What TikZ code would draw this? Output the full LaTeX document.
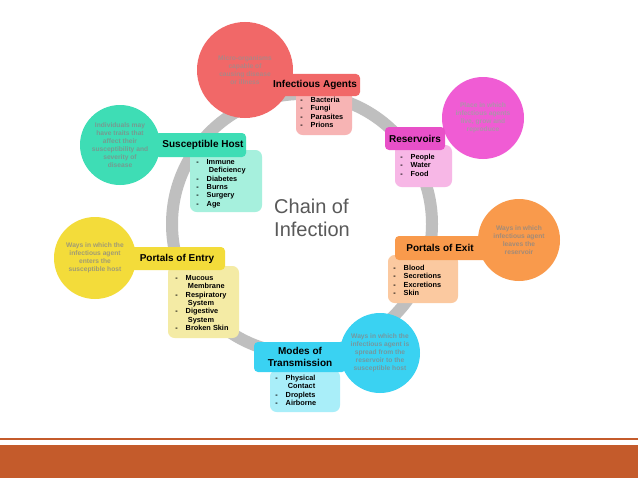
\documentclass[tikz,border=0pt]{standalone}
\usepackage{fontspec}
\setmainfont{Liberation Sans}
\definecolor{band}{RGB}{196,91,43}
\definecolor{ia}{RGB}{241,104,104}\definecolor{ial}{RGB}{247,180,180}
\definecolor{sh}{RGB}{62,221,181}\definecolor{shl}{RGB}{166,240,221}
\definecolor{rv}{RGB}{240,92,212}\definecolor{rvb}{RGB}{232,80,200}\definecolor{rvl}{RGB}{247,183,230}
\definecolor{pe}{RGB}{249,154,76}\definecolor{pel}{RGB}{251,201,160}
\definecolor{pn}{RGB}{243,220,58}\definecolor{pnl}{RGB}{244,235,165}
\definecolor{mt}{RGB}{58,210,242}\definecolor{mtl}{RGB}{169,238,249}
\begin{document}
\begin{tikzpicture}[x=0.75pt,y=-0.75pt,
  circ/.style={circle,inner sep=0pt,align=center,font=\fontsize{5}{6}\selectfont\bfseries},
  lab/.style={rounded corners=3pt},
  lst/.style={rounded corners=5pt},
  ltext/.style={anchor=north west,inner sep=0pt,align=left,font=\fontsize{5.5}{6.3}\selectfont\bfseries},
  ttext/.style={inner sep=0pt,align=center,font=\fontsize{7.5}{9}\selectfont\bfseries}]
\useasboundingbox[fill=white] (0,0) rectangle (638,478);
\fill[band] (0,445) rectangle (638,478);
\draw[line width=1.2pt,band] (0,439) -- (638,439);
\draw[line width=9pt,black!25] (302,224) circle[radius=130];
\node[font=\fontsize{15}{17}\selectfont,text=black!65,align=left] (title) at (312,218) {Chain of\\Infection};
% Infectious Agents
\fill[lst,ial] (296,90) rectangle (352,135);
\node[circ,fill=ia,minimum size=96pt*0.75,text=ia!50!black!60] (iac) at (245,70) {Micro-organisms\\capable of\\causing disease\\or illness};
\fill[lab,ia] (270,74) rectangle (360,96);
\node[ttext] (ialab) at (315,85) {Infectious Agents};
\node[ltext] (iat) at (300,97) {-\hspace{6pt}Bacteria\\-\hspace{6pt}Fungi\\-\hspace{6pt}Parasites\\-\hspace{6pt}Prions};
% Susceptible Host
\fill[lst,shl] (190,150) rectangle (262,212);
\node[circ,fill=sh,minimum size=80pt*0.75,text=sh!40!black!60] (shc) at (120,145) {Individuals may\\have traits that\\affect their\\susceptibility and\\severity of\\disease};
\fill[lab,sh] (155,133) rectangle (246,157);
\node[ttext] (shlab) at (203,145) {Susceptible Host};
\node[ltext] (sht) at (196,159) {-\hspace{6pt}Immune\\\hspace{9.5pt}Deficiency\\-\hspace{6pt}Diabetes\\-\hspace{6pt}Burns\\-\hspace{6pt}Surgery\\-\hspace{6pt}Age};
% Reservoirs
\fill[lst,rvl] (395,145) rectangle (452,187);
\node[circ,fill=rv,minimum size=82pt*0.75,text=rv!40!black!50] (rvc) at (483,118) {Place in which\\infectious agents\\live, grow and\\reproduce};
\fill[lab,rvb] (385,127) rectangle (445,150);
\node[ttext] (rvlab) at (415,138.5) {Reservoirs};
\node[ltext] (rvt) at (400,154) {-\hspace{6pt}People\\-\hspace{6pt}Water\\-\hspace{6pt}Food};
% Portals of Exit
\fill[lst,pel] (388,255) rectangle (458,303);
\node[circ,fill=pe,minimum size=82pt*0.75,text=pe!40!black!60] (pec) at (519,240) {Ways in which\\infectious agent\\leaves the\\reservoir};
\fill[lab,pe] (395,236) rectangle (490,260);
\node[ttext] (pelab) at (440,248) {Portals of Exit};
\node[ltext] (pet) at (393,265) {-\hspace{6pt}Blood\\-\hspace{6pt}Secretions\\-\hspace{6pt}Excretions\\-\hspace{6pt}Skin};
% Portals of Entry
\fill[lst,pnl] (168,266) rectangle (239,338);
\node[circ,fill=pn,minimum size=82pt*0.75,text=pn!40!black!60] (pnc) at (95,258) {Ways in which the\\infectious agent\\enters the\\susceptible host};
\fill[lab,pn] (123,247) rectangle (225,270);
\node[ttext] (pnlab) at (177,258.5) {Portals of Entry};
\node[ltext] (pnt) at (175,275) {-\hspace{6pt}Mucous\\\hspace{9.5pt}Membrane\\-\hspace{6pt}Respiratory\\\hspace{9.5pt}System\\-\hspace{6pt}Digestive\\\hspace{9.5pt}System\\-\hspace{6pt}Broken Skin};
% Modes of Transmission
\fill[lst,mtl] (270,370) rectangle (340,412);
\node[circ,fill=mt,minimum size=80pt*0.75,text=mt!40!black!60] (mtc) at (380,353) {Ways in which the\\infectious agent is\\spread from the\\reservoir to the\\susceptible host};
\fill[lab,mt] (254,342) rectangle (346,372);
\node[ttext] (mtlab) at (300,357) {Modes of\\Transmission};
\node[ltext] (mtt) at (275,375) {-\hspace{6pt}Physical\\\hspace{9.5pt}Contact\\-\hspace{6pt}Droplets\\-\hspace{6pt}Airborne};
\end{tikzpicture}
\end{document}
